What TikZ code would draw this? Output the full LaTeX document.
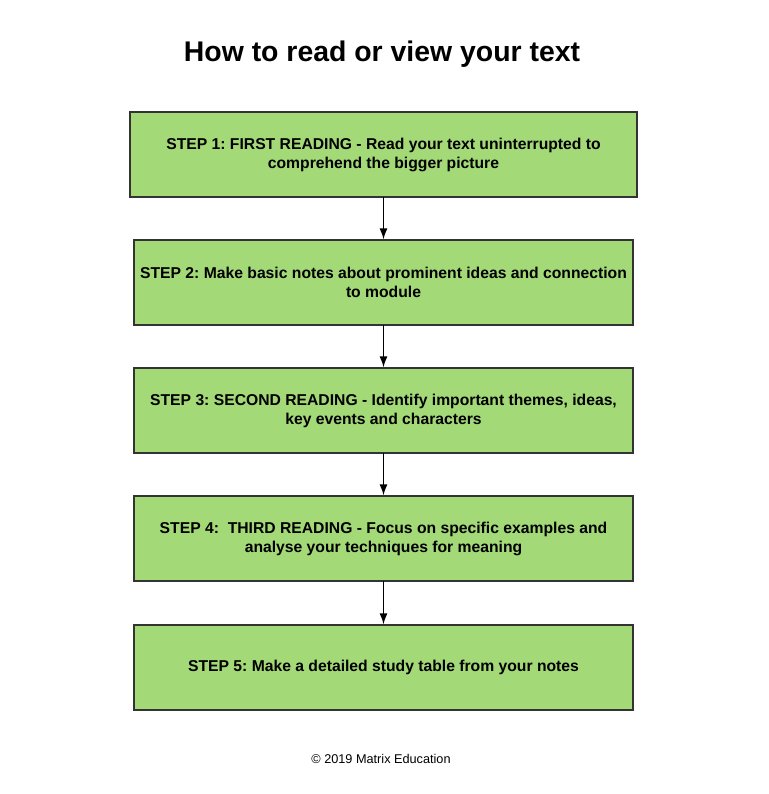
\documentclass[tikz,border=0pt]{standalone}
\usepackage{fontspec}
\setmainfont{Liberation Sans}
\usepackage{tikz}
\usetikzlibrary{arrows.meta}
\definecolor{StepGreen}{RGB}{163,217,119}
\definecolor{StepLine}{RGB}{51,51,51}
\frenchspacing

\begin{document}
\begin{tikzpicture}[x=1pt, y=-1pt, line cap=round,
	stepbox/.style={draw=StepLine, fill=StepGreen, line width=1.3pt, minimum height=85pt,
		align=center, inner sep=0pt, font=\bfseries\fontsize{15.7}{19}\selectfont},
	flowarrow/.style={line width=1.4pt, -{Latex[length=11pt, width=8pt]}}]

	\useasboundingbox (0,0) rectangle (768,794);

	\node[font=\bfseries\fontsize{28.4}{32}\selectfont] (title) at (382,54) {How to read or view your text};

	\node[stepbox, minimum width=507pt] (s1) at (383.5,154.5) {STEP 1: FIRST READING - Read your text uninterrupted to\\comprehend the bigger picture};
	\node[stepbox, minimum width=499pt] (s2) at (383.5,282.5) {STEP 2: Make basic notes about prominent ideas and connection\\to module};
	\node[stepbox, minimum width=499pt] (s3) at (383.5,410.5) {STEP 3: SECOND READING - Identify important themes, ideas,\\key events and characters};
	\node[stepbox, minimum width=499pt] (s4) at (383.5,538.5) {STEP 4:\ \ THIRD READING - Focus on specific examples and\\analyse your techniques for meaning};
	\node[stepbox, minimum width=499pt] (s5) at (383.5,667.5) {STEP 5: Make a detailed study table from your notes};

	\foreach \a/\b in {s1/s2, s2/s3, s3/s4, s4/s5}
		\draw[flowarrow] (\a.south) -- (\b.north);

	\node[font=\fontsize{12.7}{14}\selectfont] (copy) at (381,759) {© 2019 Matrix Education};

\end{tikzpicture}
\end{document}
